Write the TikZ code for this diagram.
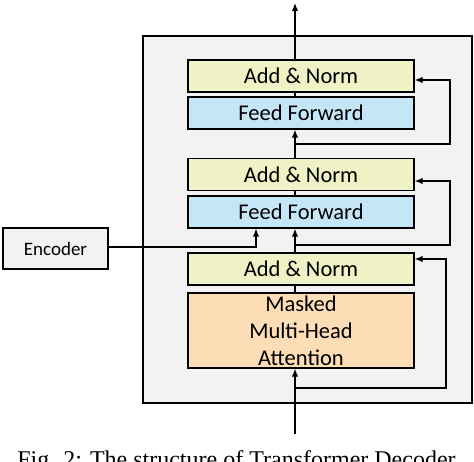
\documentclass[tikz,border=0pt]{standalone}
\usepackage{fontspec}
\setmainfont{Carlito}
\newfontfamily\capfont{Liberation Serif}
\usetikzlibrary{arrows.meta}
\definecolor{outerfill}{HTML}{F2F2F2}
\definecolor{normfill}{HTML}{EEF2C4}
\definecolor{fffill}{HTML}{C5E6F7}
\definecolor{attfill}{HTML}{FCDDB5}
\tikzset{
  layer/.style={draw=black, line width=1.3pt, minimum width=226pt, inner sep=0pt,
    font=\fontsize{22.5}{27}\selectfont, align=center, text=black},
  normbox/.style={layer, fill=normfill, minimum height=32pt},
  ffbox/.style={layer, fill=fffill, minimum height=32pt},
  attbox/.style={layer, fill=attfill, minimum height=75pt},
  conn/.style={line width=1.3pt, draw=black},
  arr/.style={conn, -{Latex[length=8pt,width=6.5pt]}}
}
\begin{document}
\begin{tikzpicture}[x=1pt,y=-1pt]
\useasboundingbox (0,0) rectangle (474,462);
% outer decoder frame
\node[draw=black, line width=1.3pt, fill=outerfill, minimum width=329pt, minimum height=367pt, inner sep=0pt] (frame) at (307.5,219.5) {};
% layers
\node[normbox] (an1) at (301,76) {Add \& Norm};
\node[ffbox] (ff1) at (301,113) {Feed Forward};
\node[normbox] (an2) at (301,174.5) {Add \& Norm};
\node[ffbox] (ff2) at (301,212) {Feed Forward};
\node[normbox] (an3) at (301,269) {Add \& Norm};
\node[attbox] (mha) at (301,330.5) {Masked\\Multi-Head\\Attention};
% encoder
\node[draw=black, line width=1.3pt, fill=outerfill, minimum width=105pt, minimum height=41pt, inner sep=0pt,
  font=\fontsize{19}{22}\selectfont] (enc) at (55.5,248.5) {Encoder};
% caption (cut off at the bottom edge, as in the reference)
\node[anchor=base, font=\capfont\fontsize{24}{28}\selectfont, inner sep=0pt] (cap) at (236.5,467) {Fig. 2: The structure of Transformer Decoder};
% coordinates
\coordinate (top) at (295,3);
\coordinate (in) at (295,434);
\coordinate (r1a) at (295,144);
\coordinate (r1b) at (450,144);
\coordinate (r1c) at (450,80);
\coordinate (r2a) at (295,245);
\coordinate (r2b) at (450,245);
\coordinate (r2c) at (450,181);
\coordinate (r3a) at (295,388);
\coordinate (r3b) at (446,388);
\coordinate (r3c) at (446,259);
\coordinate (e1) at (256,247);
% main path
\draw[arr] (an1.north -| top) -- (top);
\draw[conn] (an1.south -| top) -- (ff1.north -| top);
\draw[arr] (an2.north -| top) -- (ff1.south -| top);
\draw[conn] (an2.south -| top) -- (ff2.north -| top);
\draw[arr] (an3.north -| top) -- (ff2.south -| top);
\draw[conn] (an3.south -| top) -- (mha.north -| top);
\draw[arr] (in) -- (mha.south -| in);
% residuals
\draw[arr] (r1a) -- (r1b) -- (r1c) -- (an1.east |- r1c);
\draw[arr] (r2a) -- (r2b) -- (r2c) -- (an2.east |- r2c);
\draw[arr] (r3a) -- (r3b) -- (r3c) -- (an3.east |- r3c);
% encoder connection
\draw[arr] (enc.east |- e1) -- (e1) -- (ff2.south -| e1);
\end{tikzpicture}
\end{document}
